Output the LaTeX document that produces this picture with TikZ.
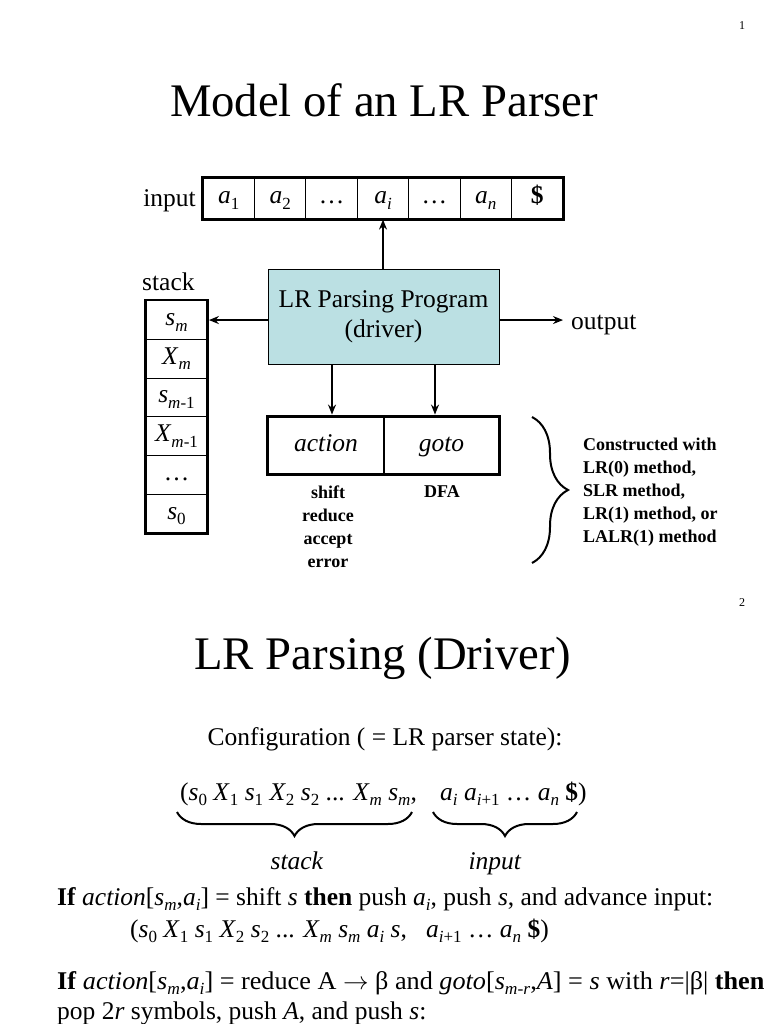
\documentclass[tikz,border=0pt]{standalone}
\usepackage{fontspec}
\usepackage{graphicx}
\setmainfont{Liberation Serif}
\usetikzlibrary{arrows.meta,decorations.pathreplacing,calc}
\definecolor{drvfill}{RGB}{187,224,227}
\newcommand\szbody{\fontsize{25.5}{30}\selectfont}
\newcommand\sztitle{\fontsize{46.7}{56}\selectfont}
\newcommand\szsmall{\fontsize{18}{23}\selectfont}
\newcommand\szpage{\fontsize{12}{14}\selectfont}
\newcommand\sbx[1]{\raisebox{-0.22em}{\fontsize{17}{20}\selectfont #1}}
\newcommand\vs[2]{\textit{#1}\sbx{#2}}
\newcommand\vi[2]{\textit{#1}\sbx{\textit{#2}}}
\tikzset{
  cell/.style={draw, line width=1.2pt, minimum width=51.43pt, minimum height=41pt, inner sep=0pt, font=\szbody, text height=17pt, text depth=6pt},
  stk/.style={draw, line width=1.2pt, minimum width=61pt, minimum height=38.7pt, inner sep=0pt, font=\szbody, text height=17pt, text depth=6pt},
  tbl/.style={draw, line width=1.8pt, minimum height=57.5pt, inner sep=0pt, font=\szbody, text height=17pt, text depth=6pt},
  drv/.style={draw, line width=0.8pt, fill=drvfill, minimum width=231pt, minimum height=95pt, align=center, font=\szbody},
  arr/.style={-{Stealth[length=10pt,width=8pt]}, line width=1.4pt},
  lbl/.style={font=\szbody, inner sep=0pt},
  small/.style={font=\szsmall\bfseries, inner sep=0pt},
  ttl/.style={font=\sztitle, inner sep=0pt},
  pg/.style={font=\szpage, inner sep=0pt},
  brc/.style={decorate, line width=2pt},
  thickframe/.style={line width=2.6pt}
}
\begin{document}
\begin{tikzpicture}[x=1pt,y=-1pt]
\useasboundingbox (0,0) rectangle (768,1024);
% ---------- slide 1 ----------
\node[pg] (p1) at (742,26) {1};
\node[ttl, anchor=base] (t1) at (384,117) {Model of an LR Parser};
% input tape
\foreach \i/\t in {1/{\vs{a}{1}},2/{\vs{a}{2}},3/{…},4/{\vi{a}{i}},5/{…},6/{\vi{a}{n}},7/{\textbf{\$}}}
  \node[cell] (c\i) at ({203+51.43*(\i-0.5)},198.5) {\t};
\draw[thickframe] (c1.north west) rectangle (c7.south east);
\node[lbl, anchor=base east] (inl) at (196,207) {input};
% driver
\node[drv] (drv) at (383.5,316.5) {LR Parsing Program\\(driver)};
% stack
\foreach \i/\t in {1/{\vi{s}{m}},2/{\vi{X}{m}},3/{\textit{s}\sbx{\textit{m}-1}},4/{\textit{X}\sbx{\textit{m}-1}},5/{…},6/{\vs{s}{0}}}
  \node[stk] (s\i) at (176.5,{300.7+38.7*(\i-0.5)}) {\t};
\draw[thickframe] (s1.north west) rectangle (s6.south east);
\node[lbl, anchor=base west] (stl) at (142,290) {stack};
% output
\node[lbl, anchor=base west] (outl) at (571,329) {output};
% table
\node[tbl, minimum width=116pt] (act) at (326,445.5) {\textit{action}};
\node[tbl, minimum width=115pt] (gt) at (441.5,445.5) {\textit{goto}};
\draw[thickframe] (act.north west) rectangle (gt.south east);
% arrows
\draw[arr] (drv.north -| c4.south) -- (c4.south);
\draw[arr, shorten >=1.3pt] (drv.west |- s1.east) -- (s1.east);
\draw[arr, shorten >=8pt] (drv.east |- s1.east) -- (outl.west |- s1.east);
\draw[arr, shorten >=1.3pt] ([xshift=6pt]act.north |- drv.south) -- ([xshift=6pt]act.north);
\draw[arr, shorten >=1.3pt] ([xshift=-6.5pt]gt.north |- drv.south) -- ([xshift=-6.5pt]gt.north);
% small texts
\node[small, align=center, anchor=north] (actl) at (328,485.5) {shift\\reduce\\accept\\error};
\node[small, anchor=north] (dfa) at (442,485.5) {DFA};
\node[small, align=left, anchor=north west] (cons) at (583,437.5) {Constructed with\\LR(0) method,\\SLR method,\\LR(1) method, or\\LALR(1) method};
\coordinate (b1) at (532,417);
\coordinate (b2) at (532,563);
\draw[brc, decoration={brace, amplitude=36pt}] (b1) -- (b2);
% ---------- slide 2 ----------
\node[pg] (p2) at (742,603) {2};
\node[ttl, anchor=base] (t2) at (382.5,669) {LR Parsing (Driver)};
\node[lbl, anchor=base] (conf) at (385,745) {Configuration ( = LR parser state):};
\node[lbl, anchor=base west] (tupa) at (180,800) {(\vs{s}{0} \vs{X}{1} \vs{s}{1} \vs{X}{2} \vs{s}{2} ... \vi{X}{m} \vi{s}{m},};
\node[lbl, anchor=base west] (tupb) at (440,800) {\vi{a}{i} \textit{a}\sbx{\textit{i}+1} … \vi{a}{n} \textbf{\$})};
\coordinate (sb1) at (177,812);
\coordinate (sb2) at (412,812);
\coordinate (ib1) at (433,812);
\coordinate (ib2) at (577,812);
\draw[brc, decoration={brace, amplitude=24pt}] (sb2) -- (sb1);
\draw[brc, decoration={brace, amplitude=24pt}] (ib2) -- (ib1);
\node[lbl, anchor=base] (stkl) at (297,869) {\textit{stack}};
\node[lbl, anchor=base] (inpl) at (495,869) {\textit{input}};
\node[lbl, anchor=base west] (l1) at (57,905) {\textbf{If} \textit{action}[\vi{s}{m},\vi{a}{i}] = shift \textit{s} \textbf{then} push \vi{a}{i}, push \textit{s}, and advance input:};
\node[lbl, anchor=base west] (l2) at (130,937) {(\vs{s}{0} \vs{X}{1} \vs{s}{1} \vs{X}{2} \vs{s}{2} ... \vi{X}{m} \vi{s}{m} \vi{a}{i} \textit{s},\ \ \ \vs{a}{\textit{i}+1} … \vi{a}{n} \textbf{\$})};
\node[lbl, anchor=base west] (l3) at (57,989) {\scalebox{1.028}[1]{\textbf{If} \textit{action}[\vi{s}{m},\vi{a}{i}] = reduce A $\rightarrow$ β and \textit{goto}[\textit{s}\sbx{\textit{m}-\textit{r}},\textit{A}] = \textit{s} with \textit{r}=|β| \textbf{then}}};
\node[lbl, anchor=base west] (l4) at (57,1019) {pop 2\textit{r} symbols, push \textit{A}, and push \textit{s}:};
\end{tikzpicture}
\end{document}
